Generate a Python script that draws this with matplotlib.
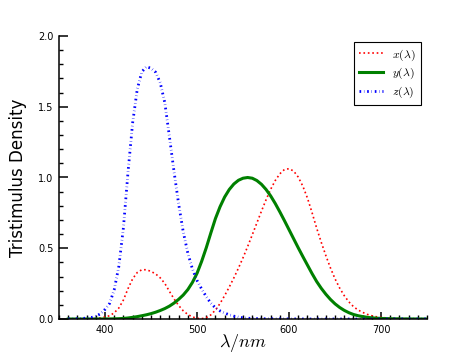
#!/usr/bin/env python3
import matplotlib
matplotlib.use("Agg")
import matplotlib.pyplot as plt
from matplotlib.ticker import MultipleLocator


# wavelength (nm) and tristimulus values (5 nm steps)
wavelength = list(range(360, 755, 5))

x_bar = [0.0001, 0.0002, 0.0004, 0.0007, 0.0014, 0.0022, 0.0042, 0.0077,
         0.0143, 0.0232, 0.0435, 0.0776, 0.1344, 0.2148, 0.2839, 0.3285,
         0.3483, 0.3481, 0.3362, 0.3187, 0.2908, 0.2511, 0.1954, 0.1421,
         0.0956, 0.0580, 0.0320, 0.0147, 0.0049, 0.0024, 0.0093, 0.0291,
         0.0633, 0.1096, 0.1655, 0.2257, 0.2904, 0.3597, 0.4334, 0.5121,
         0.5945, 0.6784, 0.7621, 0.8425, 0.9163, 0.9786, 1.0263, 1.0567,
         1.0622, 1.0456, 1.0026, 0.9384, 0.8544, 0.7514, 0.6424, 0.5419,
         0.4479, 0.3608, 0.2835, 0.2187, 0.1649, 0.1212, 0.0874, 0.0636,
         0.0468, 0.0329, 0.0227, 0.0158, 0.0114, 0.0081, 0.0058, 0.0041,
         0.0029, 0.0020, 0.0014, 0.0010, 0.0007, 0.0005, 0.0003]

y_bar = [0.0000, 0.0000, 0.0000, 0.0000, 0.0000, 0.0001, 0.0001, 0.0002,
         0.0004, 0.0006, 0.0012, 0.0022, 0.0040, 0.0073, 0.0116, 0.0168,
         0.0230, 0.0298, 0.0380, 0.0480, 0.0600, 0.0739, 0.0910, 0.1126,
         0.1390, 0.1693, 0.2080, 0.2586, 0.3230, 0.4073, 0.5030, 0.6082,
         0.7100, 0.7932, 0.8620, 0.9149, 0.9540, 0.9803, 0.9950, 1.0000,
         0.9950, 0.9786, 0.9520, 0.9154, 0.8700, 0.8163, 0.7570, 0.6949,
         0.6310, 0.5668, 0.5030, 0.4412, 0.3810, 0.3210, 0.2650, 0.2170,
         0.1750, 0.1382, 0.1070, 0.0816, 0.0610, 0.0446, 0.0320, 0.0232,
         0.0170, 0.0119, 0.0082, 0.0057, 0.0041, 0.0029, 0.0021, 0.0015,
         0.0010, 0.0007, 0.0005, 0.0004, 0.0002, 0.0002, 0.0001]

z_bar = [0.0006, 0.0011, 0.0019, 0.0035, 0.0065, 0.0105, 0.0201, 0.0362,
         0.0679, 0.1102, 0.2074, 0.3713, 0.6456, 1.0391, 1.3856, 1.6230,
         1.7471, 1.7826, 1.7721, 1.7441, 1.6692, 1.5281, 1.2876, 1.0419,
         0.8130, 0.6162, 0.4652, 0.3533, 0.2720, 0.2123, 0.1582, 0.1117,
         0.0782, 0.0573, 0.0422, 0.0298, 0.0203, 0.0134, 0.0087, 0.0057,
         0.0039, 0.0027, 0.0021, 0.0018, 0.0017, 0.0014, 0.0011, 0.0010,
         0.0008, 0.0006, 0.0003, 0.0002, 0.0002, 0.0001, 0.0000, 0.0000,
         0.0000, 0.0000, 0.0000, 0.0000, 0.0000, 0.0000, 0.0000, 0.0000,
         0.0000, 0.0000, 0.0000, 0.0000, 0.0000, 0.0000, 0.0000, 0.0000,
         0.0000, 0.0000, 0.0000, 0.0000, 0.0000, 0.0000, 0.0000]


def main():
    fig = plt.figure(figsize=(4.74, 3.55), dpi=100)
    ax = fig.add_axes([0.1245, 0.1014, 0.7765, 0.7972])

    ax.plot(wavelength, x_bar, color="red", linestyle=":", linewidth=1.2,
            label=r"$x(\lambda)$")
    ax.plot(wavelength, y_bar, color="green", linestyle="-", linewidth=2.2,
            label=r"$y(\lambda)$")
    ax.plot(wavelength, z_bar, color="blue", linewidth=2.0,
            dashes=(0.6, 1.0, 0.15, 1.0), label=r"$z(\lambda)$")

    ax.set_xlim(350, 750)
    ax.set_ylim(0, 2.0)
    ax.xaxis.set_major_locator(MultipleLocator(100))
    ax.xaxis.set_minor_locator(MultipleLocator(10))
    ax.yaxis.set_major_locator(MultipleLocator(0.5))
    ax.yaxis.set_minor_locator(MultipleLocator(0.1))

    for side in ("top", "right"):
        ax.spines[side].set_visible(False)
    for side in ("left", "bottom"):
        ax.spines[side].set_linewidth(1.1)
    ax.tick_params(which="major", direction="in", width=1.1,
                   labelsize=7, pad=4)
    ax.tick_params(axis="x", which="major", length=5)
    ax.tick_params(axis="y", which="major", length=6.5)
    ax.tick_params(which="minor", direction="in", length=3.2, width=1.0)

    ax.set_xlabel(r"$\lambda/nm$", fontsize=13, labelpad=-2)
    ax.set_ylabel("Tristimulus Density", fontsize=12)
    ax.yaxis.set_label_coords(-0.087, 0.5)

    leg = ax.legend(loc="upper right", fontsize=8.5, fancybox=False,
                    edgecolor="black", framealpha=1, handlelength=2.0,
                    borderpad=0.45, labelspacing=0.3, borderaxespad=0,
                    bbox_to_anchor=(0.984, 0.979))
    leg.get_frame().set_linewidth(0.8)

    fig.savefig("out.png", dpi=100)


if __name__ == "__main__":
    plt.rcParams.update({
        "mathtext.fontset": "cm",
    })
    main()
